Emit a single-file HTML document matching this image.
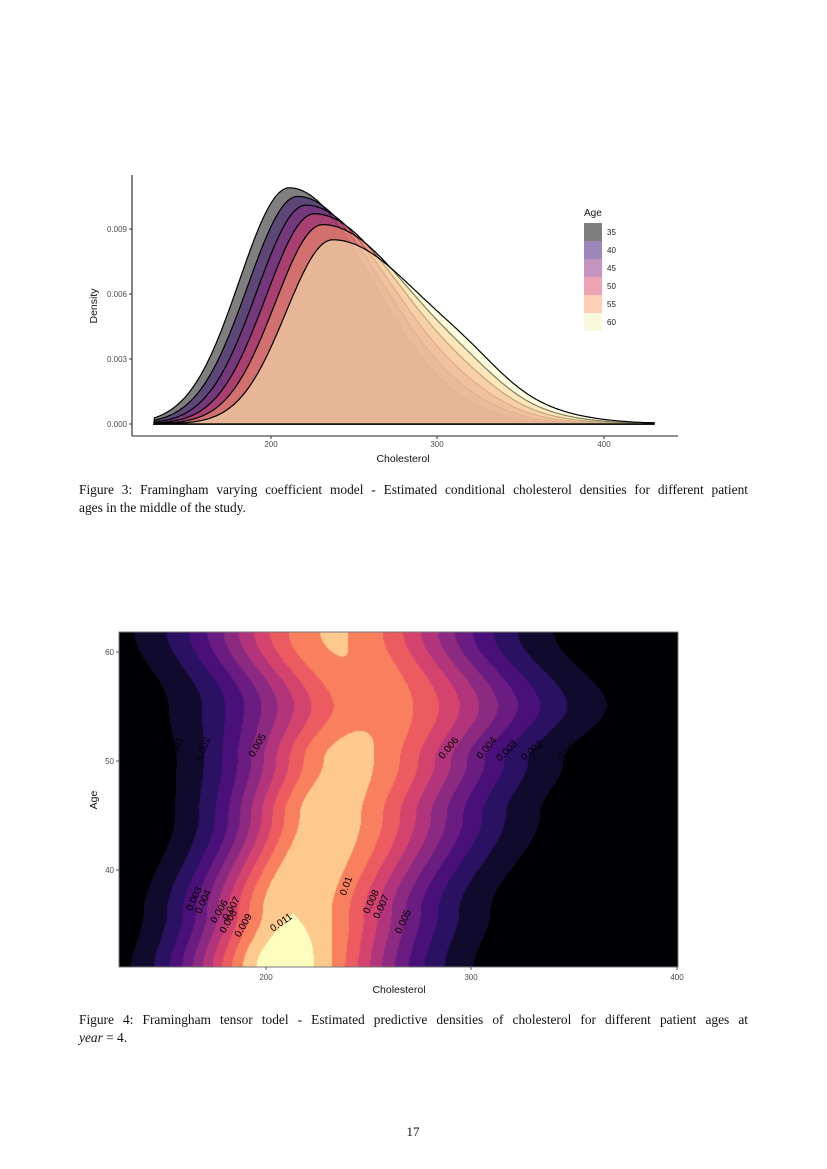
<!DOCTYPE html>
<html><head><meta charset="utf-8"><style>
html,body{margin:0;padding:0;background:#fff;}
body{width:827px;height:1169px;position:relative;overflow:hidden;}
.cap{position:absolute;left:79px;font-family:"Liberation Serif",serif;font-size:13.4px;color:#111;line-height:18px;width:669px;}
.j{text-align:justify;text-align-last:justify;white-space:nowrap;}
svg{position:absolute;left:0;top:0;}
#cv{position:absolute;left:119px;top:632px;}
</style></head><body>
<canvas id="cv" width="559" height="335"></canvas>
<svg id="s" width="827" height="1169" xmlns="http://www.w3.org/2000/svg" font-family="Liberation Sans, sans-serif">
<g id="dens"></g>
<line x1="132" y1="175" x2="132" y2="436" stroke="#222" stroke-width="1.1"/>
<line x1="132" y1="436" x2="678" y2="436" stroke="#222" stroke-width="1.1"/>
<g stroke="#333" stroke-width="1">
<line x1="129" y1="229" x2="132" y2="229"/><line x1="129" y1="294" x2="132" y2="294"/>
<line x1="129" y1="359" x2="132" y2="359"/><line x1="129" y1="424" x2="132" y2="424"/>
<line x1="271" y1="436" x2="271" y2="439"/><line x1="437" y1="436" x2="437" y2="439"/><line x1="604" y1="436" x2="604" y2="439"/>
</g>
<g font-size="8" fill="#4d4d4d" text-anchor="end">
<text x="127" y="232">0.009</text><text x="127" y="297">0.006</text><text x="127" y="362">0.003</text><text x="127" y="427">0.000</text>
</g>
<g font-size="8" fill="#4d4d4d" text-anchor="middle">
<text x="271" y="447">200</text><text x="437" y="447">300</text><text x="604" y="447">400</text>
</g>
<text x="403" y="462" font-size="10.5" text-anchor="middle" fill="#111">Cholesterol</text>
<text transform="translate(97,306) rotate(-90)" font-size="10.5" text-anchor="middle" fill="#111">Density</text>
<text x="584" y="216" font-size="10" fill="#111">Age</text>
<rect x="584" y="223" width="18" height="18" fill="#7f7f7f"/>
<rect x="584" y="241" width="18" height="18" fill="#9d87b8"/>
<rect x="584" y="259" width="18" height="18" fill="#c594c0"/>
<rect x="584" y="277" width="18" height="18" fill="#eea4b3"/>
<rect x="584" y="295" width="18" height="18" fill="#fccfb6"/>
<rect x="584" y="313" width="18" height="18" fill="#f8f8dc"/>
<g font-size="8" fill="#222">
<text x="607" y="235">35</text><text x="607" y="253">40</text><text x="607" y="271">45</text>
<text x="607" y="289">50</text><text x="607" y="307">55</text><text x="607" y="325">60</text>
</g>
<rect x="119" y="632" width="559" height="335" fill="none" stroke="#777" stroke-width="1"/>
<g stroke="#555" stroke-width="1">
<line x1="116" y1="652" x2="119" y2="652"/><line x1="116" y1="761" x2="119" y2="761"/><line x1="116" y1="870" x2="119" y2="870"/>
<line x1="266" y1="967" x2="266" y2="970"/><line x1="471" y1="967" x2="471" y2="970"/><line x1="677" y1="967" x2="677" y2="970"/>
</g>
<g font-size="8" fill="#4d4d4d" text-anchor="end">
<text x="114" y="655">60</text><text x="114" y="764">50</text><text x="114" y="873">40</text>
</g>
<g font-size="8" fill="#4d4d4d" text-anchor="middle">
<text x="266" y="980">200</text><text x="471" y="980">300</text><text x="677" y="980">400</text>
</g>
<text x="399" y="993" font-size="10.5" text-anchor="middle" fill="#111">Cholesterol</text>
<text transform="translate(97,800) rotate(-90)" font-size="10.5" text-anchor="middle" fill="#111">Age</text>
<g font-size="10" fill="#000" text-anchor="middle">
<text transform="translate(179,750) rotate(-70)">0.001</text>
<text transform="translate(206,750) rotate(-70)">0.002</text>
<text transform="translate(260,747) rotate(-60)">0.005</text>
<text transform="translate(451,750) rotate(-50)">0.006</text>
<text transform="translate(489,750) rotate(-50)">0.004</text>
<text transform="translate(509,753) rotate(-45)">0.003</text>
<text transform="translate(534,753) rotate(-40)">0.002</text>
<text transform="translate(570,752) rotate(-40)">0.001</text>
<text transform="translate(197,900) rotate(-65)">0.003</text>
<text transform="translate(206,903) rotate(-65)">0.004</text>
<text transform="translate(222,913) rotate(-60)">0.006</text>
<text transform="translate(234,910) rotate(-60)">0.007</text>
<text transform="translate(231,923) rotate(-60)">0.008</text>
<text transform="translate(246,927) rotate(-60)">0.009</text>
<text transform="translate(283,925) rotate(-35)">0.011</text>
<text transform="translate(349,887) rotate(-70)">0.01</text>
<text transform="translate(374,903) rotate(-65)">0.008</text>
<text transform="translate(384,908) rotate(-65)">0.007</text>
<text transform="translate(406,923) rotate(-65)">0.005</text>
</g>
<text x="413" y="1136" font-size="13" font-family="Liberation Serif, serif" text-anchor="middle" fill="#111">17</text>
</svg>
<div class="cap" style="top:481px"><div class="j">Figure 3: Framingham varying coefficient model - Estimated conditional cholesterol densities for different patient</div><div>ages in the middle of the study.</div></div>
<div class="cap" style="top:1011px"><div class="j">Figure 4: Framingham tensor todel - Estimated predictive densities of cholesterol for different patient ages at</div><div><i>year</i> = 4.</div></div>
<script>
(function(){
var g=document.getElementById('dens'),NS='http://www.w3.org/2000/svg';
var m=[211,216,221,226,231,237],h=[.0109,.0105,.0101,.0097,.0092,.0085];
var sR=[50,52,54,56,58,60],sL=[30,30,29.5,29,28.5,28];
var cols=['#000000','#3b0f70','#8c2981','#de4968','#fe9f6d','#fcfdbf'];
for(var k=0;k<6;k++){
 var d='M154,424';
 for(var c=130;c<=430;c+=1){
  var s=c<m[k]?sL[k]:sR[k];
  var v=h[k]*Math.exp(-(c-m[k])*(c-m[k])/(2*s*s))+0.0001*k*Math.exp(-(c-320)*(c-320)/800);
  v=Math.max(v,0.00012*Math.exp(-Math.pow((c-280)/150,2)));
  d+='L'+(271+(c-200)*1.665).toFixed(1)+','+(424-v*21670).toFixed(1);
 }
 d+='L654,424Z';
 var p=document.createElementNS(NS,'path');p.setAttribute('d',d);
 p.setAttribute('fill',cols[k]);p.setAttribute('fill-opacity','0.5');
 p.setAttribute('stroke','#000');p.setAttribute('stroke-width','1.2');
 g.appendChild(p);
}
})();
(function(){
var cv=document.getElementById('cv'),ctx=cv.getContext('2d');
var W=cv.width,H=cv.height,img=ctx.createImageData(W,H);
var ages=[31,36,45,50,55,61.8],M=[207,212,228,238,250,232],Hh=[.0118,.0110,.0107,.0104,.0097,.0101],
 L=[33,33,33.5,38,46,45],R=[42,44,48,49,54,50];
function it(a,arr){if(a<=ages[0])return arr[0];for(var i=0;i<ages.length-1;i++){if(a<=ages[i+1]){var t=(a-ages[i])/(ages[i+1]-ages[i]);t=t*t*(3-2*t);return arr[i]+(arr[i+1]-arr[i])*t;}}return arr[arr.length-1];}
var pal=['#000004','#100b2d','#2a1161','#4a1079','#6a1c81','#8c2981','#b2357b','#d3436e','#ec5b60','#f8805e','#fec98d','#fcfdbf'];
var P=pal.map(function(c){return[parseInt(c.substr(1,2),16),parseInt(c.substr(3,2),16),parseInt(c.substr(5,2),16)];});
for(var y=0;y<H;y++){
 var a=61.8-(y)/10.87;
 var m=it(a,M),hh=it(a,Hh),l=it(a,L),r=it(a,R);
 for(var x=0;x<W;x++){
  var c=128+(x)/2.055;
  var s=c<m?l:r;
  var v=hh*Math.exp(-(c-m)*(c-m)/(2*s*s));
  var b=Math.min(11,Math.floor(v/0.001));
  var o=(y*W+x)*4,q=P[b];
  img.data[o]=q[0];img.data[o+1]=q[1];img.data[o+2]=q[2];img.data[o+3]=255;
 }
}
ctx.putImageData(img,0,0);
})();
</script>
</body></html>
